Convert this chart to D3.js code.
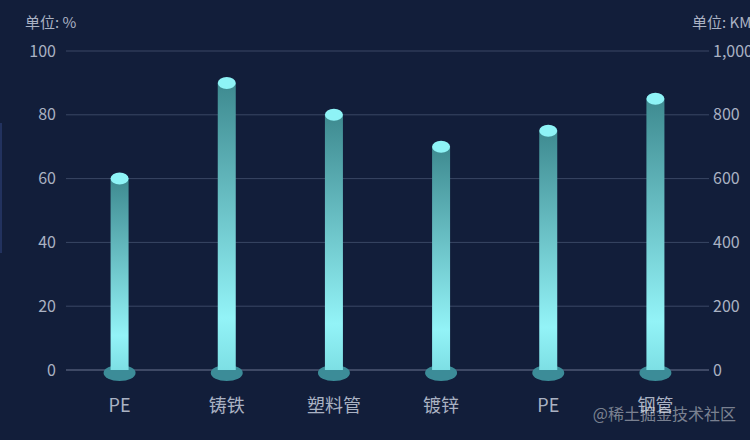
<!DOCTYPE html>
<html>
<head>
<meta charset="utf-8">
<script src="https://cdn.jsdelivr.net/npm/d3@7"></script>
<style>
  html, body { margin: 0; padding: 0; background: #121e3a; }
  svg { display: block; font-family: "Noto Sans CJK SC", "Noto Sans", sans-serif; }
</style>
</head>
<body>
<main></main>
<script>
// データ
const categories = ["PE", "铸铁", "塑料管", "镀锌", "PE", "钢管"];
const values = [60, 90, 80, 70, 75, 85];
const leftTicks = [0, 20, 40, 60, 80, 100];
const rightTicks = [0, 200, 400, 600, 800, 1000];

const width = 750, height = 440;
const margin = { top: 51, right: 41, bottom: 70, left: 66 };

const svg = d3.select("main").append("svg")
    .attr("width", width)
    .attr("height", height);

svg.append("rect")
    .attr("width", width).attr("height", height)
    .attr("fill", "#121e3a");

// 左端の薄い帯
svg.append("rect")
    .attr("x", 0).attr("y", 123).attr("width", 2).attr("height", 130)
    .attr("fill", "#22325e");

// グラデーション
const defs = svg.append("defs");
const grad = defs.append("linearGradient")
    .attr("id", "barGrad")
    .attr("x1", 0).attr("y1", 0).attr("x2", 0).attr("y2", 1);
grad.append("stop").attr("offset", "0%").attr("stop-color", "#3e8a90");
grad.append("stop").attr("offset", "82%").attr("stop-color", "#93f3f7");
grad.append("stop").attr("offset", "100%").attr("stop-color", "#7ddfe4");

// スケール
const x = d3.scaleBand()
    .domain(d3.range(categories.length))
    .range([margin.left, width - margin.right]);

const y = d3.scaleLinear()
    .domain([0, 100])
    .range([height - margin.bottom, margin.top]);

const y2 = d3.scaleLinear()
    .domain([0, 1000])
    .range([height - margin.bottom, margin.top]);

// グリッド線
svg.append("g")
    .selectAll("line")
    .data(leftTicks)
    .enter().append("line")
    .attr("x1", margin.left)
    .attr("x2", width - margin.right)
    .attr("y1", d => y(d))
    .attr("y2", d => y(d))
    .attr("stroke", d => d === 0 ? "#6b7590" : "#3a4764")
    .attr("stroke-width", 1);

// 左軸ラベル
svg.append("g")
    .selectAll("text")
    .data(leftTicks)
    .enter().append("text")
    .attr("x", 56)
    .attr("y", d => y(d))
    .attr("dy", "0.35em")
    .attr("text-anchor", "end")
    .attr("fill", "#aab2c3")
    .attr("font-size", 16)
    .text(d => d);

// 右軸ラベル
svg.append("g")
    .selectAll("text")
    .data(rightTicks)
    .enter().append("text")
    .attr("x", 713)
    .attr("y", d => y2(d))
    .attr("dy", "0.35em")
    .attr("text-anchor", "start")
    .attr("fill", "#aab2c3")
    .attr("font-size", 16)
    .text(d => d3.format(",")(d));

// 単位
svg.append("text")
    .attr("x", 25).attr("y", 28)
    .attr("fill", "#aab2c3").attr("font-size", 15)
    .text("单位: %");
svg.append("text")
    .attr("x", 692).attr("y", 28)
    .attr("fill", "#aab2c3").attr("font-size", 15)
    .text("单位: KM");

const barW = 18;
const bars = svg.append("g")
    .selectAll("g")
    .data(values)
    .enter().append("g")
    .attr("transform", (d, i) => `translate(${x(i) + x.bandwidth() / 2},0)`);

// 底の楕円
bars.append("ellipse")
    .attr("cx", 0)
    .attr("cy", y(0) + 3)
    .attr("rx", 16)
    .attr("ry", 8)
    .attr("fill", "#3c8c98");

// 柱
bars.append("rect")
    .attr("x", -barW / 2)
    .attr("y", d => y(d))
    .attr("width", barW)
    .attr("height", d => y(0) - y(d))
    .attr("fill", "url(#barGrad)");

// 上の楕円
bars.append("ellipse")
    .attr("cx", 0)
    .attr("cy", d => y(d))
    .attr("rx", barW / 2)
    .attr("ry", 6)
    .attr("fill", "#8ef3f6");

// カテゴリラベル
svg.append("g")
    .selectAll("text")
    .data(categories)
    .enter().append("text")
    .attr("x", (d, i) => x(i) + x.bandwidth() / 2)
    .attr("y", 406)
    .attr("dy", "0.35em")
    .attr("text-anchor", "middle")
    .attr("fill", "#aab2c3")
    .attr("font-size", 18)
    .text(d => d);

// 透かし
svg.append("text")
    .attr("x", 736).attr("y", 414)
    .attr("dy", "0.35em")
    .attr("text-anchor", "end")
    .attr("fill", "#ffffff")
    .attr("fill-opacity", 0.45)
    .attr("font-size", 16)
    .text("@稀土掘金技术社区");
</script>
</body>
</html>
